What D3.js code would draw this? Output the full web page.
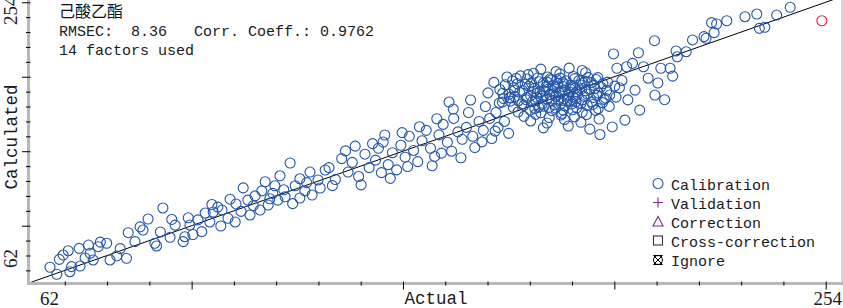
<!DOCTYPE html>
<html lang="zh">
<head>
<meta charset="UTF-8">
<title>己酸乙酯 Calibration</title>
<style>
  html, body { margin: 0; background: #fff; }
  svg { display: block; }
  .mono { font-family: 'Liberation Mono', 'DejaVu Sans Mono', monospace; white-space: pre; fill: #1a1a1a; }
  .serif { font-family: 'Liberation Serif', serif; fill: #1a1a1a; }
  .cjk { font-family: 'Noto Sans CJK SC', sans-serif; fill: #111; }
</style>
</head>
<body>
<svg id="chart" width="843" height="308"></svg>
<script src="https://d3js.org/d3.v7.min.js"></script>
<script>
// calibration samples: [actual, calculated]
const calibration = [
  // low end
  [66.5,72.1],[68.1,67.4],[68.7,77.4],[69.6,80.3],[70.8,83.2],[71.6,72.5],[71.2,69.1],[73.6,72.9],
  [73.4,84.8],[75.6,87],[76,81.5],[76.7,77],[77.9,85.9],[79.9,88.2],[80.7,77],[82.3,79.7],
  [84.6,78.1],[86.6,89.3],[91.3,88.2],[91.7,86.4],[94.9,92.2],[98,89.3],[98.4,92.6],[102.4,96],
  [85,95.3],[88.5,97.1],[74.8,78.3],[78.4,89],[83.1,84.6],[87.8,99.2],[89.7,104.5],[93.2,111.9],
  [96.1,100.4],[100.3,94.1],[95.3,104.2],[92.6,95.8],[99.2,105.3],
  // 100 - 130
  [103.2,108.5],[105.1,109.2],[106.2,112.5],[107.2,110.5],[110.5,114.6],[112.2,125.4],[113.3,117.2],
  [115,120],[116.6,123.4],[118.5,118.1],[119.7,126.8],[120.9,133.5],[122.1,119.4],[123.3,142.1],
  [124.5,126.8],[125.6,131.5],[126.8,123.4],[128,136],[129.9,130.7],[131.6,137.4],[99.6,100.5],
  [101.5,103.9],[104.3,102.5],[108.6,105],[110.3,102.5],[113.8,107.2],[116.2,110.5],[118.1,113.9],
  [120.4,117.2],[125.6,118.6],[128.5,120.6],[104.8,114.2],[109.1,117.8],[111.7,109.6],[114.6,113.5],
  [117.4,129.5],[121.8,124.1],[123.9,114.8],[127.2,128.9],[130.4,125.3],[106.9,99.8],[119.2,121.7],
  // 130 - 175
  [132.5,139],[134,131],[135.5,145],[137,136],[138,142.5],[139.5,133],[141,148],[142,139],
  [143.5,144],[144.2,152],[145.7,160.9],[145.3,156.2],[146.5,141],[147.5,149],[148.5,137.5],
  [149.5,154],[150.5,146],[151.5,160],[152.5,150.5],[153.5,143],[154.5,157],[155.5,164],
  [156.5,152],[157.5,146.5],[158.5,161],[159.5,168],[160.5,156],[161.5,150],[162,172],[163,163],
  [164,158],[165,166],[165.5,176],[166.5,160],[167,152.5],[168,170],[169,164],[169.5,180],
  [170.5,172],[171,158.5],[172,176],[172.5,166],[173.5,183],[174,170],[175,162],[175.2,186],
  [133.3,126.9],[136.4,150.2],[140.1,127.4],[142.8,155.1],[147,131.8],[151.1,139.7],[153.9,166.4],
  [156.9,140.2],[159.1,148.7],[161.9,178.3],[163.7,145.6],[166,184.4],[168.7,156.3],[170.1,189.2],
  [171.8,163.5],[158,171.8],[149.8,162.5],[144.9,135.6],[138.7,153.4],[160.9,183],
  [171.5,196.2],[174.6,199.8],
  // dense group
  [182.6,205.1],[186.2,203.4],[189.3,205.8],[192.4,204.2],
  [177.8,200.6],[180.9,202.3],[184.2,199.8],[187.1,201.9],[190.3,200.2],[193.2,202.7],[196.1,199.4],
  [175.9,197.2],[179.4,198.5],[182.3,196.6],[185.1,197.9],[187.8,196.1],[190.6,198.7],[193.1,196.9],
  [195.7,198.1],[198.4,196.4],
  [174.2,194.6],[177.1,195.3],[179.8,193.5],[183.2,195.7],[185.6,193.9],[188.1,195.1],[190.2,193.3],
  [192.6,195.8],[195.2,194.2],[197.3,195.4],[200.1,193.7],
  [172.9,191.4],[176.2,192.6],[178.3,190.7],[181.1,192.2],[183.4,190.4],[186.1,192.8],[188.3,191.1],
  [190.7,192.4],[193.1,190.6],[195.4,192.1],[198.2,190.9],[201.2,192.6],
  [175.1,188.2],[177.6,189.5],[180.2,187.4],[182.4,189.8],[184.7,188.1],[186.9,189.3],[189.2,187.6],
  [191.1,189.9],[193.6,188.4],[196.2,189.1],[198.9,187.7],
  [173.8,185.3],[176.4,186.7],[179.1,184.6],[181.6,186.2],[184.1,184.9],[186.2,186.8],[188.1,185.1],
  [190.2,186.5],[192.4,184.4],[195.1,186.1],[197.6,184.8],[200.4,186.3],
  [172.8,182.4],[175.4,183.6],[178.1,181.7],[180.6,183.3],[182.9,181.5],[185.2,183.8],[187.4,182.1],
  [189.6,183.5],[192.1,181.9],[194.6,183.1],[197.2,182.6],
  [176.1,179.4],[178.6,180.8],[181.2,178.7],[183.4,180.2],[186.1,178.9],[188.4,180.5],[191.1,179.1],
  [193.6,180.7],[196.2,178.6],[198.8,180.1],
  [177.2,176.3],[180.1,177.6],[182.6,175.8],[185.2,177.2],[187.6,175.4],[190.1,177.8],[192.4,176.1],
  [195.6,177.4],
  [178.6,173.4],[181.4,174.8],[184.6,172.6],[187.4,174.3],[190.6,173.1],[193.4,174.6],
  [180.2,170.3],[184.1,168.9],[188.2,171.2],[192.1,169.4],[196.4,171.6],
  [183.2,165.7],[189.1,166.9],[194.2,164.8],
  [184.8,198.6],[189.7,194.4],[181.7,188.9],[187.6,190.1],[192.8,186.9],[185.9,181.2],[179.3,186.1],
  [194.1,191.3],[183.8,193.2],[188.9,184.2],[186.6,195.7],[191.6,197.4],[180.4,195.9],[195.9,187.5],
  [182.1,179.6],[189.9,181.6],[177.3,183.9],[185.4,190.7],[191.9,194.6],[187.2,199.1],
  [183.1,187.2],[186.8,184.1],[189.4,189.8],[184.3,191.6],[187.9,193.4],[190.8,185.3],[182.7,185.6],
  [185.7,188.5],[188.6,197.3],[192.3,192.1],[178.9,195.1],[181.9,199.2],[176.8,198.9],[179.6,201.4],
  [194.5,196.1],[196.8,193.1],[193.8,199.6],[181.4,183.9],[184.6,179.4],[187.9,177.6],[190.9,183.2],
  [194.9,181.4],[197.9,185.6],[176.4,190.8],[173.6,188.9],[180.8,190.3],[186.4,198.1],[189.6,191.7],
  [191.3,188.2],[184.1,196.4],
  // high end
  [201.8,197.5],[203.2,184.5],[204.9,191],[206,177.6],[208,199],[209.6,187.7],[202.5,170.9],
  [199.5,166.3],[196.6,161.2],[210.3,195.8],[213.8,200.4],[211.9,184.6],
  [199.8,215.3],[200.6,205.7],[202.9,206.7],[204.3,209],[205.7,216.1],[206.9,206.7],[209.5,224.2],
  [211,205.7],[213.2,205.7],[214.6,217.3],[214.9,213.4],[217,216.8],[218.5,224.7],[221.2,226.9],
  [221.7,225.8],[223,236.3],[224.2,235.4],[223.6,229.6],[226.6,237.6],[230.9,240.3],[233.7,242.1],
  [234.3,232.5],[235.6,233.2],[238.4,241.4],[241.6,246.6]
];
// highlighted sample (red)
const flagged = [[249.1, 237.6]];

const range = [62, 254];
const minorTicks = [70, 80, 90, 110, 120, 130, 140, 160, 170, 180, 190, 210, 220, 230, 240];
const majorTicks = [100, 150, 200, 250];
const infoLines = ["RMSEC:  8.36   Corr. Coeff.: 0.9762", "14 factors used"];
const component = "己酸乙酯";
const legendItems = ["Calibration", "Validation", "Correction", "Cross-correction", "Ignore"];

const svg = d3.select("#chart");
const x = d3.scaleLinear().domain(range).range([31, 842.6]);
const y = d3.scaleLinear().domain(range).range([282.3, -3.7]);

svg.append("defs").append("clipPath").attr("id", "plot")
  .append("rect").attr("x", 30).attr("y", 0).attr("width", 813).attr("height", 282);

// frame
svg.append("line").attr("x1", 842).attr("x2", 842).attr("y1", 0).attr("y2", 283)
  .attr("stroke", "#c8c8c8").attr("stroke-width", 1.5);
svg.append("rect").attr("x", 27).attr("y", 0).attr("width", 3).attr("height", 285).attr("fill", "#b8b8b8");
svg.append("rect").attr("x", 27).attr("y", 282).attr("width", 816).attr("height", 3).attr("fill", "#b8b8b8");

// ticks
function bottomTicks(vals, size) {
  svg.append("g").attr("transform", "translate(0,281.5)")
    .call(d3.axisBottom(x).tickValues(vals).tickSize(size).tickFormat(""))
    .call(g => g.select(".domain").remove())
    .call(g => g.selectAll("line").attr("stroke", "#000"));
}
function leftTicks(vals, size) {
  svg.append("g").attr("transform", "translate(30.5,0)")
    .call(d3.axisLeft(y).tickValues(vals).tickSize(size).tickFormat(""))
    .call(g => g.select(".domain").remove())
    .call(g => g.selectAll("line").attr("stroke", "#000"));
}
bottomTicks(minorTicks, 4);
bottomTicks(majorTicks, 8);
leftTicks(minorTicks, 4.5);
leftTicks(majorTicks, 8.5);

// tick labels (min / max only)
svg.append("text").attr("class", "serif").attr("x", 40).attr("y", 305)
  .style("font-size", "19px").text(range[0]);
svg.append("text").attr("class", "serif").attr("x", 842).attr("y", 305)
  .attr("text-anchor", "end").style("font-size", "19px").text(range[1]);
svg.append("text").attr("class", "serif").style("font-size", "19px")
  .attr("transform", "translate(17,268) rotate(-90)").text(range[0]);
svg.append("text").attr("class", "serif").style("font-size", "19px")
  .attr("transform", "translate(17,25) rotate(-90)").text(range[1]);

// axis titles
svg.append("text").attr("class", "mono").attr("x", 436).attr("y", 304)
  .attr("text-anchor", "middle").style("font-size", "17.5px").text("Actual");
svg.append("text").attr("class", "mono").style("font-size", "17.5px")
  .attr("text-anchor", "middle").attr("transform", "translate(17,137) rotate(-90)").text("Calculated");

const plot = svg.append("g").attr("clip-path", "url(#plot)");

// ideal line
plot.append("line")
  .attr("x1", x(range[0])).attr("y1", y(range[0]))
  .attr("x2", x(range[1])).attr("y2", y(range[1]))
  .attr("stroke", "#000").attr("stroke-width", 1);

plot.selectAll("circle.cal").data(calibration).join("circle")
  .attr("class", "cal")
  .attr("cx", d => x(d[0])).attr("cy", d => y(d[1])).attr("r", 5)
  .attr("fill", "none").attr("stroke", "#2456a8").attr("stroke-width", 1.1);

plot.selectAll("circle.flag").data(flagged).join("circle")
  .attr("class", "flag")
  .attr("cx", d => x(d[0])).attr("cy", d => y(d[1])).attr("r", 5)
  .attr("fill", "none").attr("stroke", "#e8232a").attr("stroke-width", 1.1);

// header text
svg.append("text").attr("class", "cjk").attr("x", 59).attr("y", 17)
  .style("font-size", "16px").text(component);
infoLines.forEach((t, i) => {
  svg.append("text").attr("class", "mono").attr("x", 59).attr("y", 36 + i * 19)
    .style("font-size", "15px").text(t);
});

// legend
const legend = svg.append("g").attr("transform", "translate(658,0)");
const rowY = [183.5, 202.5, 221.5, 240.5, 260];
legendItems.forEach((t, i) => {
  legend.append("text").attr("class", "mono").attr("x", 13).attr("y", rowY[i] + 6)
    .style("font-size", "15px").text(t);
});
legend.append("circle").attr("cx", 0).attr("cy", rowY[0]).attr("r", 5)
  .attr("fill", "none").attr("stroke", "#2456a8").attr("stroke-width", 1.1);
legend.append("path").attr("d", `M-5,${rowY[1]}H5M0,${rowY[1] - 5}V${rowY[1] + 5}`)
  .attr("stroke", "#7b2d8e").attr("stroke-width", 1.1);
legend.append("path").attr("d", `M0,${rowY[2] - 5}L5,${rowY[2] + 4.5}H-5Z`)
  .attr("fill", "none").attr("stroke", "#7b2d8e").attr("stroke-width", 1.1);
legend.append("rect").attr("x", -4.5).attr("y", rowY[3] - 4.5).attr("width", 9).attr("height", 9)
  .attr("fill", "none").attr("stroke", "#3a2a44").attr("stroke-width", 1.1);
legend.append("circle").attr("cx", 0).attr("cy", rowY[4]).attr("r", 4.5)
  .attr("fill", "none").attr("stroke", "#000").attr("stroke-width", 1);
legend.append("path").attr("d", `M-4.5,${rowY[4] - 4.5}L4.5,${rowY[4] + 4.5}M4.5,${rowY[4] - 4.5}L-4.5,${rowY[4] + 4.5}M-4.5,${rowY[4] - 4.5}H4.5M-4.5,${rowY[4] + 4.5}H4.5`)
  .attr("stroke", "#000").attr("stroke-width", 1);
</script>
</body>
</html>
